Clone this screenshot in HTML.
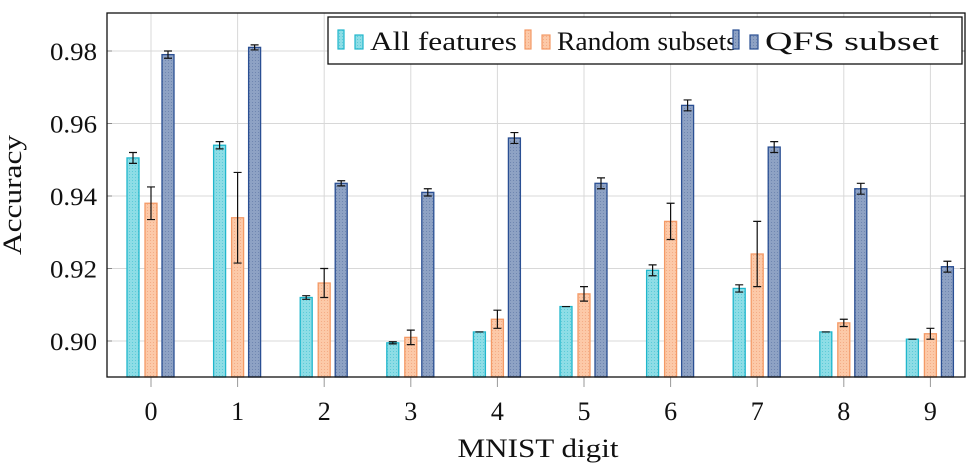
<!DOCTYPE html>
<html><head><meta charset="utf-8"><style>
body{margin:0;background:#fff;}
svg text{font-family:"Liberation Serif",serif;fill:#111;}
</style></head><body>
<svg width="970" height="465" id="c">
<defs>
<pattern id="pc" width="3" height="3" patternUnits="userSpaceOnUse"><rect width="3" height="3" fill="#8ddde6"/><rect width="1" height="1" fill="#5ccbd8"/></pattern>
<pattern id="po" width="3" height="3" patternUnits="userSpaceOnUse"><rect width="3" height="3" fill="#fcc9a8"/><rect width="1" height="1" fill="#f4ac86"/></pattern>
<pattern id="pb" width="3" height="3" patternUnits="userSpaceOnUse"><rect width="3" height="3" fill="#8ea2c4"/><rect width="1" height="1" fill="#6f86b0"/></pattern>
</defs>
<g id="grid"></g><g id="bars"></g><g id="axes"></g>
</svg>
<script>
const digits=["0","1","2","3","4","5","6","7","8","9"];
const allFeat=[0.9505,0.954,0.912,0.8995,0.9025,0.9095,0.9195,0.9145,0.9025,0.9005];
const allErr=[0.0015,0.001,0.0005,0.0003,0,0,0.0015,0.001,0,0];
const randSub=[0.938,0.934,0.916,0.901,0.906,0.913,0.933,0.924,0.905,0.902];
const randErr=[0.0045,0.0125,0.004,0.002,0.0025,0.002,0.005,0.009,0.001,0.0015];
const qfsSub=[0.979,0.981,0.9435,0.941,0.956,0.9435,0.965,0.9535,0.942,0.9205];
const qfsErr=[0.001,0.0007,0.0007,0.001,0.0015,0.0015,0.0015,0.0015,0.0015,0.0015];
const yTicks=[0.90,0.92,0.94,0.96,0.98];
const yLabels=["0.90","0.92","0.94","0.96","0.98"];
const L=107,R=965,T=13,B=377;
const y=v=>341-(v-0.90)*3625;
const x=i=>151+i*86.6;
const NS="http://www.w3.org/2000/svg";
function mk(tag,at,parent){const e=document.createElementNS(NS,tag);for(const k in at)e.setAttribute(k,at[k]);parent.appendChild(e);return e;}
const grid=document.getElementById('grid'),bars=document.getElementById('bars'),axes=document.getElementById('axes');
yTicks.forEach((t,i)=>{
 const g=mk('line',{x1:L,x2:R,y1:y(t),y2:y(t),stroke:'#d8d8d8','stroke-width':1},grid);
 
 
 mk('line',{x1:L,x2:L+5,y1:y(t),y2:y(t),stroke:'#888'},axes);
 mk('line',{x1:R,x2:R-5,y1:y(t),y2:y(t),stroke:'#888'},axes);
 const tx=mk('text',{x:L-10,y:y(t)+9,'text-anchor':'end','font-size':25,textLength:47,lengthAdjust:'spacingAndGlyphs'},axes);tx.textContent=yLabels[i];
 
 
});
digits.forEach((d,i)=>{
 const g=mk('line',{x1:x(i),x2:x(i),y1:T,y2:B,stroke:'#d8d8d8','stroke-width':1},grid);
 
 
 mk('line',{x1:x(i),x2:x(i),y1:B,y2:B+10,stroke:'#999'},axes);
 const tx=mk('text',{x:x(i),y:B+43,'text-anchor':'middle','font-size':26},axes);tx.textContent=d;
 
 
});
const series=[[allFeat,allErr,-18,'url(#pc)','#1fb6cc','bar-all-features'],[randSub,randErr,0,'url(#po)','#f49a66','bar-random-subsets'],[qfsSub,qfsErr,17,'url(#pb)','#2a4f93','bar-qfs-subset']];
series.forEach(s=>{
 s[0].forEach((v,i)=>{
  const cx=x(i)+s[2];
  const r=mk('rect',{x:cx-6,y:y(v),width:12,height:B-y(v),fill:s[3],stroke:s[4],'stroke-width':1.3},bars);
  
  
  const e=s[1][i],y1=y(v+e),y2=y(v-e);
  const eb=mk('path',{d:`M${cx},${y1}V${y2}M${cx-4},${y1}H${cx+4}M${cx-4},${y2}H${cx+4}`,stroke:'#111','stroke-width':1.2,fill:'none'},bars);
  
  
 });
});
const fr=mk('rect',{x:L,y:T,width:R-L,height:B-T,fill:'none',stroke:'#111','stroke-width':1.3},axes);


const yt=mk('text',{x:0,y:0,'text-anchor':'middle','font-size':26,textLength:120,lengthAdjust:'spacingAndGlyphs',transform:`translate(21,${(T+B)/2}) rotate(-90)`},axes);yt.textContent='Accuracy';


const xt=mk('text',{x:538,y:457,'text-anchor':'middle','font-size':26,textLength:161,lengthAdjust:'spacingAndGlyphs'},axes);xt.textContent='MNIST digit';


// legend
const lg=mk('g',{},axes);


mk('rect',{x:328,y:17,width:634,height:47,fill:'#fff',stroke:'#111','stroke-width':1.3},lg);
const items=[[338,'All features','url(#pc)','#1fb6cc',147],[525,'Random subsets','url(#po)','#f49a66',180],[733,'QFS subset','url(#pb)','#2a4f93',174]];
items.forEach(it=>{
 const ge=mk('g',{},lg);
 
 
 mk('rect',{x:it[0],y:30,width:6,height:19,fill:it[2],stroke:it[3],'stroke-width':1.2},ge);
 mk('rect',{x:it[0]+17,y:35,width:8,height:14,fill:it[2],stroke:it[3],'stroke-width':1.2},ge);
 const t=mk('text',{x:it[0]+32,y:50,'font-size':26,textLength:it[4],lengthAdjust:'spacingAndGlyphs'},ge);t.textContent=it[1];
});
</script>
</body></html>
